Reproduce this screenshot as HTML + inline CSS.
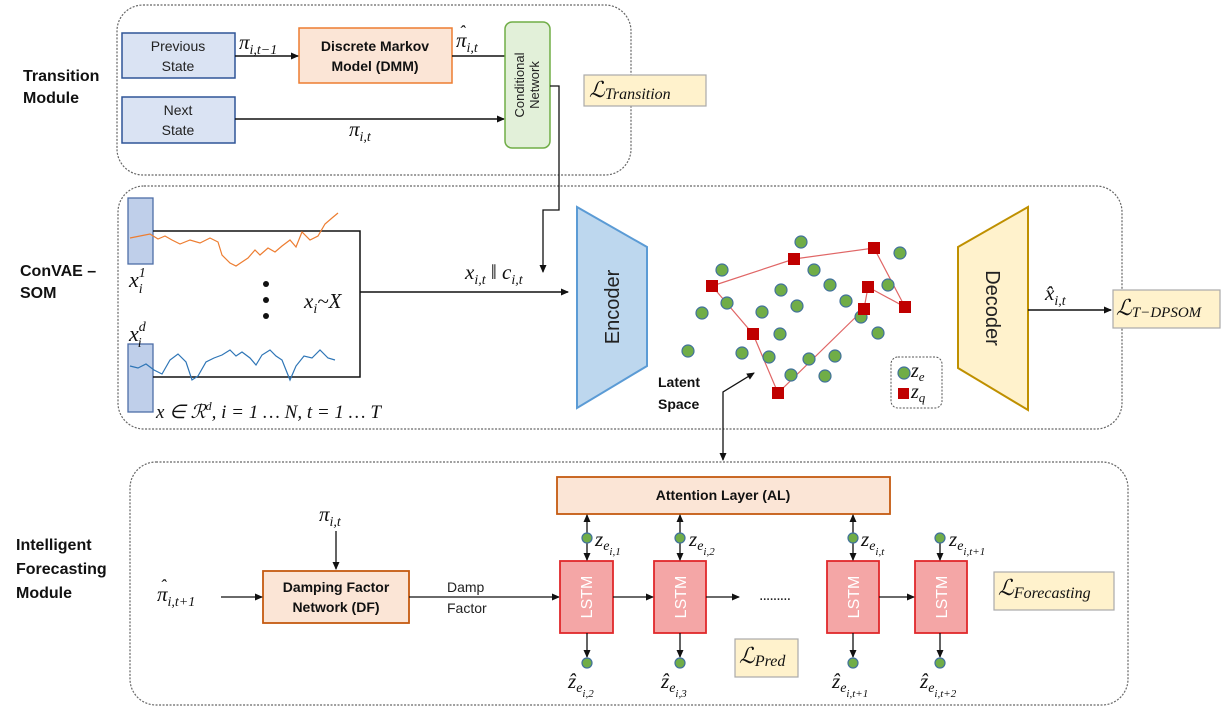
<!DOCTYPE html>
<html><head><meta charset="utf-8"><style>
html,body{margin:0;padding:0;background:#fff;}
svg{display:block;}
.b{font-family:"Liberation Sans",sans-serif;font-weight:bold;fill:#111;}
.s{font-family:"Liberation Sans",sans-serif;fill:#222;}
.m{font-family:"Liberation Serif",serif;font-style:italic;fill:#111;}
</style></head><body>
<svg width="1232" height="710" viewBox="0 0 1232 710" xmlns="http://www.w3.org/2000/svg">
<defs>
<marker id="a" markerWidth="8" markerHeight="8" refX="7" refY="4" orient="auto" markerUnits="userSpaceOnUse"><path d="M0,0.5 L8,4 L0,7.5z" fill="#111"/></marker>
<marker id="as" markerWidth="8" markerHeight="8" refX="1" refY="4" orient="auto" markerUnits="userSpaceOnUse"><path d="M8,0.5 L0,4 L8,7.5z" fill="#111"/></marker>
</defs>
<g fill="none" stroke="#666" stroke-width="1.2" stroke-dasharray="2,1.5">
<rect x="117" y="5" width="514" height="170" rx="26"/>
<rect x="118" y="186" width="1004" height="243" rx="26"/>
<rect x="130" y="462" width="998" height="243" rx="26"/>
</g>
<text class="b" font-size="16"><tspan x="23" y="81">Transition</tspan><tspan x="23" y="103">Module</tspan></text>
<text class="b" font-size="16"><tspan x="20" y="276">ConVAE –</tspan><tspan x="20" y="298">SOM</tspan></text>
<text class="b" font-size="16"><tspan x="16" y="550">Intelligent</tspan><tspan x="16" y="574">Forecasting</tspan><tspan x="16" y="598">Module</tspan></text>

<rect x="122" y="33" width="113" height="45" fill="#dae3f3" stroke="#2f5597" stroke-width="1.5"/>
<text class="s" font-size="14" text-anchor="middle"><tspan x="178" y="51">Previous</tspan><tspan x="178" y="71">State</tspan></text>
<rect x="122" y="97" width="113" height="46" fill="#dae3f3" stroke="#2f5597" stroke-width="1.5"/>
<text class="s" font-size="14" text-anchor="middle"><tspan x="178" y="115">Next</tspan><tspan x="178" y="135">State</tspan></text>
<rect x="299" y="28" width="153" height="55" fill="#fbe5d6" stroke="#ed7d31" stroke-width="1.5"/>
<text class="b" font-size="14" text-anchor="middle"><tspan x="375" y="51">Discrete Markov</tspan><tspan x="375" y="71">Model (DMM)</tspan></text>
<line x1="235" y1="56" x2="298" y2="56" stroke="#111" stroke-width="1.5" marker-end="url(#a)"/>
<text class="m" font-size="21" x="239" y="49">π<tspan font-size="14" dy="5">i,t−1</tspan></text>
<line x1="452" y1="56" x2="505" y2="56" stroke="#111" stroke-width="1.5"/>
<text class="m" font-size="21" x="456" y="47">π<tspan font-size="14" dy="5">i,t</tspan></text>
<text class="m" font-size="18" x="459" y="38">ˆ</text>
<line x1="235" y1="119" x2="504" y2="119" stroke="#111" stroke-width="1.5" marker-end="url(#a)"/>
<text class="m" font-size="21" x="349" y="136">π<tspan font-size="14" dy="5">i,t</tspan></text>
<rect x="505" y="22" width="45" height="126" rx="7" fill="#e2f0d9" stroke="#70ad47" stroke-width="1.5"/>
<text class="s" font-size="13" text-anchor="middle" transform="translate(527,85) rotate(-90)"><tspan x="0" y="-3">Conditional</tspan><tspan x="0" y="12">Network</tspan></text>
<rect x="584" y="75" width="122" height="31" fill="#fff2cc" stroke="#aaa" stroke-width="1.2"/>
<text class="m" font-size="22" x="589" y="97">ℒ<tspan font-size="16" dy="2">Transition</tspan></text>
<polyline points="550,86 559,86 559,210 543,210 543,272" fill="none" stroke="#111" stroke-width="1.3" marker-end="url(#a)"/>

<rect x="128" y="198" width="25" height="66" fill="#b4c7e7" stroke="#2f5597" stroke-width="1.3" opacity="0.85"/>
<rect x="128" y="344" width="25" height="68" fill="#b4c7e7" stroke="#2f5597" stroke-width="1.3" opacity="0.85"/>
<polyline points="153,231 360,231 360,377 153,377" fill="none" stroke="#111" stroke-width="1.5"/>
<polyline points="130,238 140,236 150,234 158,239 165,236 172,240 180,244 190,240 200,243 210,238 218,242 222,255 230,263 236,266 242,262 248,258 255,250 260,255 268,248 275,252 282,246 290,240 296,247 302,232 310,240 318,236 325,224 332,218 338,213" fill="none" stroke="#ed7d31" stroke-width="1.2"/>
<polyline points="130,366 138,368 146,364 154,370 162,374 170,360 178,354 186,362 192,380 198,376 206,362 214,358 222,355 230,350 236,356 242,352 250,358 256,365 262,355 270,350 276,356 282,360 290,380 296,366 304,356 312,358 320,350 328,358 335,360" fill="none" stroke="#2e75b6" stroke-width="1.2"/>
<text class="m" font-size="22" x="129" y="287">x<tspan font-size="14" dy="-10">1</tspan><tspan font-size="14" dx="-7" dy="16">i</tspan></text>
<text class="m" font-size="22" x="129" y="341">x<tspan font-size="14" dy="-10">d</tspan><tspan font-size="14" dx="-8" dy="16">i</tspan></text>
<circle cx="266" cy="284" r="3" fill="#111"/><circle cx="266" cy="300" r="3" fill="#111"/><circle cx="266" cy="316" r="3" fill="#111"/>
<text class="m" font-size="21" x="304" y="308">x<tspan font-size="14" dy="5">i</tspan><tspan dy="-5">~X</tspan></text>
<text class="m" font-size="19" x="156" y="418">x ∈ ℛ<tspan font-size="12" dy="-8">d</tspan><tspan dy="8">, i = 1 … N, t = 1 … T</tspan></text>
<line x1="360" y1="292" x2="568" y2="292" stroke="#111" stroke-width="1.5" marker-end="url(#a)"/>
<text class="m" font-size="21" x="465" y="279">x<tspan font-size="14" dy="5">i,t</tspan><tspan dy="-5" font-style="normal"> ‖ </tspan>c<tspan font-size="14" dy="5">i,t</tspan></text>
<polygon points="577,207 647,247 647,366 577,408" fill="#bdd7ee" stroke="#5b9bd5" stroke-width="2"/>
<text class="s" font-size="20" text-anchor="middle" transform="translate(612,307) rotate(-90)" x="0" y="7">Encoder</text>
<polygon points="958,247 1028,207 1028,410 958,368" fill="#fff2cc" stroke="#bf9000" stroke-width="2"/>
<text class="s" font-size="20" text-anchor="middle" transform="translate(993,308) rotate(90)" x="0" y="7">Decoder</text>
<line x1="1028" y1="310" x2="1111" y2="310" stroke="#111" stroke-width="1.5" marker-end="url(#a)"/>
<text class="m" font-size="21" x="1045" y="300">x̂<tspan font-size="14" dy="5">i,t</tspan></text>
<rect x="1113" y="290" width="107" height="38" fill="#fff2cc" stroke="#aaa" stroke-width="1.2"/>
<text class="m" font-size="22" x="1116" y="315">ℒ<tspan font-size="15" dy="2">T−DPSOM</tspan></text>
<polyline points="712,286 794,259 874,248 905,307 868,287 864,309 778,393 753,334 712,286" fill="none" stroke="#e06666" stroke-width="1.2"/>
<g fill="#70ad47" stroke="#41719c" stroke-width="1.2">
<circle cx="801" cy="242" r="6"/><circle cx="900" cy="253" r="6"/><circle cx="722" cy="270" r="6"/><circle cx="814" cy="270" r="6"/><circle cx="830" cy="285" r="6"/><circle cx="888" cy="285" r="6"/><circle cx="781" cy="290" r="6"/><circle cx="727" cy="303" r="6"/><circle cx="797" cy="306" r="6"/><circle cx="846" cy="301" r="6"/><circle cx="702" cy="313" r="6"/><circle cx="762" cy="312" r="6"/><circle cx="861" cy="317" r="6"/><circle cx="780" cy="334" r="6"/><circle cx="878" cy="333" r="6"/><circle cx="688" cy="351" r="6"/><circle cx="742" cy="353" r="6"/><circle cx="769" cy="357" r="6"/><circle cx="809" cy="359" r="6"/><circle cx="835" cy="356" r="6"/><circle cx="791" cy="375" r="6"/><circle cx="825" cy="376" r="6"/>
</g>
<g fill="#c00000">
<rect x="706" y="280" width="12" height="12"/><rect x="788" y="253" width="12" height="12"/><rect x="868" y="242" width="12" height="12"/><rect x="899" y="301" width="12" height="12"/><rect x="862" y="281" width="12" height="12"/><rect x="858" y="303" width="12" height="12"/><rect x="772" y="387" width="12" height="12"/><rect x="747" y="328" width="12" height="12"/>
</g>
<text class="b" font-size="14"><tspan x="658" y="387">Latent</tspan><tspan x="658" y="409">Space</tspan></text>
<polyline points="723,460 723,392 754,373" fill="none" stroke="#111" stroke-width="1.3" marker-end="url(#a)" marker-start="url(#as)"/>
<rect x="891" y="357" width="51" height="51" rx="7" fill="#fff" stroke="#555" stroke-width="1" stroke-dasharray="2,1.5"/>
<circle cx="904" cy="373" r="6" fill="#70ad47" stroke="#41719c" stroke-width="1.2"/>
<text class="m" font-size="20" x="911" y="377">z<tspan font-size="13" dy="4">e</tspan></text>
<rect x="898" y="388" width="11" height="11" fill="#c00000"/>
<text class="m" font-size="20" x="911" y="398">z<tspan font-size="13" dy="4">q</tspan></text>

<text class="m" font-size="21" x="319" y="521">π<tspan font-size="14" dy="5">i,t</tspan></text>
<line x1="336" y1="531" x2="336" y2="569" stroke="#111" stroke-width="1.3" marker-end="url(#a)"/>
<rect x="263" y="571" width="146" height="52" fill="#fbe5d6" stroke="#c55a11" stroke-width="1.8"/>
<text class="b" font-size="14" text-anchor="middle"><tspan x="336" y="592">Damping Factor</tspan><tspan x="336" y="612">Network (DF)</tspan></text>
<text class="m" font-size="21" x="157" y="601">π<tspan font-size="14" dy="5">i,t+1</tspan></text>
<text class="m" font-size="18" x="160" y="592">ˆ</text>
<line x1="221" y1="597" x2="262" y2="597" stroke="#111" stroke-width="1.3" marker-end="url(#a)"/>
<line x1="409" y1="597" x2="559" y2="597" stroke="#111" stroke-width="1.3" marker-end="url(#a)"/>
<text class="s" font-size="14"><tspan x="447" y="592">Damp</tspan><tspan x="447" y="613">Factor</tspan></text>
<rect x="557" y="477" width="333" height="37" fill="#fbe5d6" stroke="#c55a11" stroke-width="1.8"/>
<text class="b" font-size="14" text-anchor="middle" x="723" y="500">Attention Layer (AL)</text>
<g fill="#f4a6a6" stroke="#e0282b" stroke-width="1.8">
<rect x="560" y="561" width="53" height="72"/><rect x="654" y="561" width="52" height="72"/><rect x="827" y="561" width="52" height="72"/><rect x="915" y="561" width="52" height="72"/>
</g>
<g class="s" font-size="16" text-anchor="middle" style="fill:#fff">
<text transform="translate(586,597) rotate(-90)" x="0" y="6">LSTM</text>
<text transform="translate(680,597) rotate(-90)" x="0" y="6">LSTM</text>
<text transform="translate(853,597) rotate(-90)" x="0" y="6">LSTM</text>
<text transform="translate(941,597) rotate(-90)" x="0" y="6">LSTM</text>
</g>
<g stroke="#111" stroke-width="1.3" marker-end="url(#a)">
<line x1="613" y1="597" x2="653" y2="597"/><line x1="706" y1="597" x2="739" y2="597"/><line x1="879" y1="597" x2="914" y2="597"/>
<line x1="587" y1="533" x2="587" y2="515"/><line x1="680" y1="533" x2="680" y2="515"/><line x1="853" y1="533" x2="853" y2="515"/>
<line x1="587" y1="543" x2="587" y2="560"/><line x1="680" y1="543" x2="680" y2="560"/><line x1="853" y1="543" x2="853" y2="560"/><line x1="940" y1="543" x2="940" y2="560"/>
<line x1="587" y1="633" x2="587" y2="657"/><line x1="680" y1="633" x2="680" y2="657"/><line x1="853" y1="633" x2="853" y2="657"/><line x1="940" y1="633" x2="940" y2="657"/>
</g>
<text class="s" font-size="16" x="759" y="600" letter-spacing="-1">.........</text>
<g fill="#70ad47" stroke="#41719c" stroke-width="1.2">
<circle cx="587" cy="538" r="5"/><circle cx="680" cy="538" r="5"/><circle cx="853" cy="538" r="5"/><circle cx="940" cy="538" r="5"/>
<circle cx="587" cy="663" r="5"/><circle cx="680" cy="663" r="5"/><circle cx="853" cy="663" r="5"/><circle cx="940" cy="663" r="5"/>
</g>
<g class="m" font-size="21">
<text x="595" y="546">z<tspan font-size="14" dy="4">e</tspan><tspan font-size="11" dy="5">i,1</tspan></text>
<text x="689" y="546">z<tspan font-size="14" dy="4">e</tspan><tspan font-size="11" dy="5">i,2</tspan></text>
<text x="861" y="546">z<tspan font-size="14" dy="4">e</tspan><tspan font-size="11" dy="5">i,t</tspan></text>
<text x="949" y="546">z<tspan font-size="14" dy="4">e</tspan><tspan font-size="11" dy="5">i,t+1</tspan></text>
<text x="568" y="688">ẑ<tspan font-size="14" dy="4">e</tspan><tspan font-size="11" dy="5">i,2</tspan></text>
<text x="661" y="688">ẑ<tspan font-size="14" dy="4">e</tspan><tspan font-size="11" dy="5">i,3</tspan></text>
<text x="832" y="688">ẑ<tspan font-size="14" dy="4">e</tspan><tspan font-size="11" dy="5">i,t+1</tspan></text>
<text x="920" y="688">ẑ<tspan font-size="14" dy="4">e</tspan><tspan font-size="11" dy="5">i,t+2</tspan></text>
</g>
<rect x="735" y="639" width="63" height="38" fill="#fff2cc" stroke="#aaa" stroke-width="1.2"/>
<text class="m" font-size="22" x="739" y="663">ℒ<tspan font-size="16" dy="3">Pred</tspan></text>
<rect x="994" y="572" width="120" height="38" fill="#fff2cc" stroke="#aaa" stroke-width="1.2"/>
<text class="m" font-size="22" x="998" y="595">ℒ<tspan font-size="16" dy="3">Forecasting</tspan></text>
</svg>
</body></html>
